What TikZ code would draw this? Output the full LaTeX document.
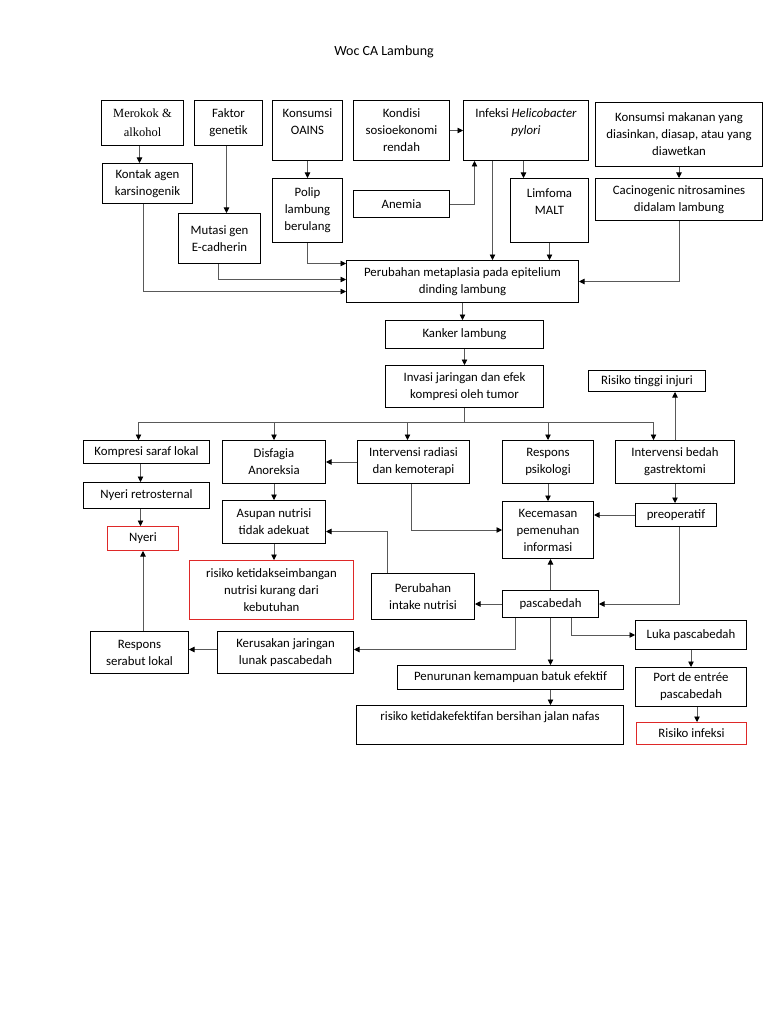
\documentclass[tikz,border=0pt]{standalone}
\usepackage{fontspec}
\setmainfont{Carlito}
\newfontfamily\serifx{Liberation Serif}
\usetikzlibrary{arrows.meta}
\definecolor{boxred}{RGB}{222,40,40}
\tikzset{
  box/.style={draw=black, line width=1pt, anchor=north west, align=center, inner sep=1pt,
    font=\fontsize{12.8}{17}\selectfont, text=black},
  redbox/.style={box, draw=boxred},
  conn/.style={draw=black!65, line width=0.7pt},
  arr/.style={conn, -{Triangle[length=5.5pt,width=5.5pt,color=black]}},
}
\begin{document}
\begin{tikzpicture}[x=1pt,y=-1pt]
\useasboundingbox (0,0) rectangle (768,1024);
\fill[white] (0,0) rectangle (768,1024);
\node[font=\fontsize{14}{16}\selectfont] (title) at (384,52) {Woc CA Lambung};
% top row
\node[box, minimum width=82, minimum height=45, font=\serifx\fontsize{12.5}{19}\selectfont] (merokok) at (101,100) {Merokok \&\\alkohol};
\node[box, minimum width=68, minimum height=45] (faktor) at (194,100) {Faktor\\genetik};
\node[box, minimum width=70, minimum height=60] (oains) at (272,100) {Konsumsi\\OAINS\\\mbox{}};
\node[box, minimum width=96, minimum height=60] (kondisi) at (353,100) {Kondisi\\sosioekonomi\\rendah};
\node[box, minimum width=125, minimum height=60] (infeksi) at (463,100) {Infeksi \textit{Helicobacter}\\\textit{pylori}\\\mbox{}};
\node[box, minimum width=167, minimum height=64] (makanan) at (595,102) {Konsumsi makanan yang\\diasinkan, diasap, atau yang\\diawetkan};
\node[box, minimum width=90, minimum height=40] (kontak) at (102,163) {Kontak agen\\karsinogenik};
\node[box, minimum width=70, minimum height=64] (polip) at (272,178) {Polip\\lambung\\berulang};
\node[box, minimum width=82, minimum height=50] (mutasi) at (178,213) {Mutasi gen\\E-cadherin};
\node[box, minimum width=96, minimum height=27] (anemia) at (353,190) {Anemia};
\node[box, minimum width=78, minimum height=64] (limfoma) at (510,178) {Limfoma\\MALT\\\mbox{}};
\node[box, minimum width=167, minimum height=42] (cacino) at (595,178) {Cacinogenic nitrosamines\\didalam lambung};
\node[box, minimum width=232, minimum height=42] (perubahan) at (346,260) {Perubahan metaplasia pada epitelium\\dinding lambung};
\node[box, minimum width=158, minimum height=28] (kanker) at (385,320) {Kanker lambung};
\node[box, minimum width=158, minimum height=42] (invasi) at (385,365) {Invasi jaringan dan efek\\kompresi oleh tumor};
\node[box, minimum width=117, minimum height=21] (injuri) at (588,370) {Risiko tinggi injuri};
% branch row
\node[box, minimum width=126, minimum height=23] (kompresi) at (83,440) {Kompresi saraf lokal};
\node[box, minimum width=103, minimum height=43] (disfagia) at (222,440) {Disfagia\\Anoreksia};
\node[box, minimum width=112, minimum height=43] (radiasi) at (357,440) {Intervensi radiasi\\dan kemoterapi};
\node[box, minimum width=91, minimum height=43] (respons) at (502,440) {Respons\\psikologi};
\node[box, minimum width=119, minimum height=43] (bedah) at (615,440) {Intervensi bedah\\gastrektomi};
\node[box, minimum width=126, minimum height=26] (retro) at (83,482) {Nyeri retrosternal};
\node[redbox, minimum width=71, minimum height=24] (nyeri) at (107,526) {Nyeri};
\node[box, minimum width=103, minimum height=43] (asupan) at (222,500) {Asupan nutrisi\\tidak adekuat};
\node[box, minimum width=91, minimum height=57] (kecemasan) at (502,501) {Kecemasan\\pemenuhan\\informasi};
\node[box, minimum width=81, minimum height=23] (preop) at (635,503) {preoperatif};
\node[redbox, minimum width=164, minimum height=59] (risiko1) at (189,560) {risiko ketidakseimbangan\\nutrisi kurang dari\\kebutuhan};
\node[box, minimum width=103, minimum height=46] (intake) at (371,573) {Perubahan\\intake nutrisi};
\node[box, minimum width=96, minimum height=27] (pasca) at (502,590) {pascabedah};
\node[box, minimum width=111, minimum height=29] (luka) at (635,620) {Luka pascabedah};
\node[box, minimum width=98, minimum height=42] (serabut) at (90,631) {Respons\\serabut lokal};
\node[box, minimum width=136, minimum height=42] (kerusakan) at (217,631) {Kerusakan jaringan\\lunak pascabedah};
\node[box, minimum width=226, minimum height=24] (penurunan) at (397,665) {Penurunan kemampuan batuk efektif};
\node[box, minimum width=111, minimum height=39] (port) at (635,667) {Port de entrée\\pascabedah};
\node[box, minimum width=267, minimum height=39] (nafas) at (356,705) {risiko ketidakefektifan bersihan jalan nafas\\\mbox{}};
\node[redbox, minimum width=110, minimum height=22] (infeksi2) at (636,722) {Risiko infeksi};
% connectors, top part
\draw[arr] ([xshift=-3]merokok.south) -- ([xshift=-3]merokok.south |- kontak.north);
\draw[arr] ([xshift=-2]faktor.south) -- ([xshift=-2]faktor.south |- mutasi.north);
\draw[arr] (oains.south) -- (polip.north);
\draw[arr] (polip.south) |- ([yshift=18]perubahan.west);
\draw[arr] ([xshift=-1]mutasi.south) |- ([yshift=2]perubahan.west);
\draw[arr] ([xshift=-4]kontak.south) |- ([yshift=-10]perubahan.west);
\draw[arr] (kondisi.east) -- (infeksi.west);
\draw[arr] (anemia.east) -| ([xshift=-51.5]infeksi.south);
\draw[arr] ([xshift=-33.5]infeksi.south) -- ([xshift=-33.5]infeksi.south |- perubahan.north);
\draw[arr] ([xshift=-2.5]infeksi.south) -- ([xshift=-2.5]infeksi.south |- limfoma.north);
\draw[arr] (limfoma.south) -- (limfoma.south |- perubahan.north);
\draw[arr] (makanan.south) -- (makanan.south |- cacino.north);
\draw[arr] (cacino.south) |- (perubahan.east);
\draw[arr] (perubahan.south) -- (perubahan.south |- kanker.north);
\draw[arr] (kanker.south) -- (invasi.north);
% bus
\coordinate (bus) at (464,422);
\draw[conn] (invasi.south) -- (invasi.south |- bus);
\draw[conn] ([xshift=-8]kompresi.north |- bus) -- ([xshift=-21.5]bedah.north |- bus);
\draw[arr] ([xshift=-8]kompresi.north |- bus) -- ([xshift=-8]kompresi.north);
\draw[arr] (disfagia.north |- bus) -- (disfagia.north);
\draw[arr] ([xshift=-6]radiasi.north |- bus) -- ([xshift=-6]radiasi.north);
\draw[arr] (respons.north |- bus) -- (respons.north);
\draw[arr] ([xshift=-21.5]bedah.north |- bus) -- ([xshift=-21.5]bedah.north);
\draw[arr] (bedah.north) -- (bedah.north |- injuri.south);
% lower part
\draw[arr] ([xshift=-6]kompresi.south) -- ([xshift=-6]kompresi.south |- retro.north);
\draw[arr] ([xshift=-6]retro.south) -- ([xshift=-6]retro.south |- nyeri.north);
\draw[arr] (disfagia.south) -- (asupan.north);
\draw[arr] (asupan.south) -- (asupan.south |- risiko1.north);
\draw[arr] (radiasi.west) -- (disfagia.east);
\draw[arr] ([xshift=-2]radiasi.south) |- (kecemasan.west);
\draw[arr] ([xshift=-35.5]intake.north) |- ([yshift=-9.5]asupan.east);
\draw[arr] (respons.south) -- (kecemasan.north);
\draw[arr] (bedah.south) -- (bedah.south |- preop.north);
\draw[arr] (preop.west) -- (preop.west -| kecemasan.east);
\draw[arr] ([xshift=3.5]preop.south) |- (pasca.east);
\draw[arr] (pasca.north) -- (pasca.north |- kecemasan.south);
\draw[arr] (pasca.west) -- (pasca.west -| intake.east);
\draw[arr] ([xshift=-35]pasca.south) |- ([yshift=3]kerusakan.east);
\draw[arr] ([yshift=3]kerusakan.west) -- ([yshift=3]serabut.east);
\draw[arr] (nyeri.south |- serabut.north) -- (nyeri.south);
\draw[arr] (pasca.south) -- (pasca.south |- penurunan.north);
\draw[arr] (pasca.south |- penurunan.south) -- (pasca.south |- nafas.north);
\draw[arr] ([xshift=21]pasca.south) |- (luka.west);
\draw[arr] (luka.south) -- (port.north);
\draw[arr] ([xshift=6]port.south) -- ([xshift=6]port.south |- infeksi2.north);
\end{tikzpicture}
\end{document}
